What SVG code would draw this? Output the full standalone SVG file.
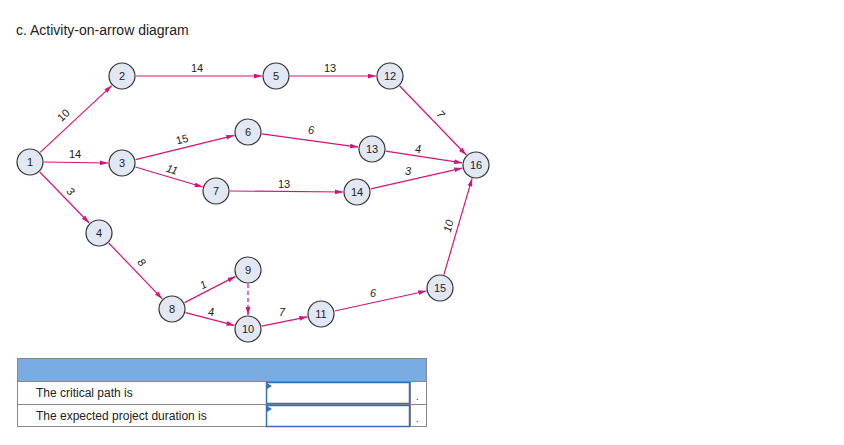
<svg xmlns="http://www.w3.org/2000/svg" width="844" height="445" viewBox="0 0 844 445">
<style>
text{font-family:"Liberation Sans",Arial,sans-serif;fill:#222}
.n circle{fill:#e2e8f3;stroke:#333;stroke-width:1.2}
.n text{font-size:11px;text-anchor:middle}
.e line{stroke:#d4147a;stroke-width:1.2;marker-end:url(#a)}
.l{font-size:11px;text-anchor:middle}
.i{font-style:italic}
.t{font-size:12px}
</style>
<defs><marker id="a" viewBox="0 0 10 6" refX="10" refY="3" markerWidth="8" markerHeight="5" orient="auto" markerUnits="userSpaceOnUse"><path d="M0,0L10,3L0,6z" fill="#d4147a"/></marker></defs>
<rect width="844" height="445" fill="#fff"/>
<text x="16" y="35" style="font-size:14px">c. Activity-on-arrow diagram</text>
<g id="connectors" class="e">
<line x1="40.2" y1="152.4" x2="111.8" y2="85.6"/>
<line x1="44" y1="162" x2="108" y2="163"/>
<line x1="39.8" y1="172" x2="89.2" y2="223"/>
<line x1="136" y1="76" x2="262" y2="76"/>
<line x1="135.6" y1="159.7" x2="234.4" y2="135.3"/>
<line x1="135.4" y1="167" x2="202.6" y2="187"/>
<line x1="108.7" y1="243" x2="162.3" y2="298.9"/>
<line x1="290" y1="76" x2="376" y2="76"/>
<line x1="261.9" y1="133.9" x2="358.1" y2="147.1"/>
<line x1="230" y1="191" x2="343" y2="192"/>
<line x1="184.5" y1="302.6" x2="235.5" y2="276.4"/>
<line x1="185.5" y1="312.6" x2="234.5" y2="325.4"/>
<line x1="248" y1="284" x2="248" y2="315" stroke-dasharray="4,3"/>
<line x1="261.7" y1="326.2" x2="307.3" y2="316.8"/>
<line x1="334.7" y1="311" x2="426.3" y2="291"/>
<line x1="399.7" y1="86" x2="466.3" y2="155"/>
<line x1="385.8" y1="151.1" x2="462.2" y2="162.9"/>
<line x1="370.7" y1="188.9" x2="462.3" y2="168.1"/>
<line x1="443.9" y1="274.6" x2="472.1" y2="178.4"/>
</g>
<g id="labels">
<text class="l" transform="translate(66,118) rotate(-43)">10</text>
<text class="l" x="75" y="158">14</text>
<text class="l i" transform="translate(68,194) rotate(46)">3</text>
<text class="l" x="197" y="72">14</text>
<text class="l" transform="translate(183,143) rotate(-14)">15</text>
<text class="l i" transform="translate(171,173) rotate(16)">11</text>
<text class="l i" transform="translate(139,265) rotate(46)">8</text>
<text class="l" x="330" y="72">13</text>
<text class="l i" x="311" y="134">6</text>
<text class="l" x="284" y="188">13</text>
<text class="l i" transform="translate(205,288) rotate(-27)">1</text>
<text class="l i" x="211" y="316">4</text>
<text class="l i" x="282" y="316">7</text>
<text class="l i" x="373" y="297">6</text>
<text class="l i" transform="translate(438,117) rotate(45)">7</text>
<text class="l i" x="418" y="153">4</text>
<text class="l i" x="408" y="175">3</text>
<text class="l i" transform="translate(452,227) rotate(-75)">10</text>
</g>
<g id="n1" class="n"><circle cx="30" cy="162" r="13"/><text x="30" y="166">1</text></g>
<g id="n2" class="n"><circle cx="122" cy="76" r="13"/><text x="122" y="80">2</text></g>
<g id="n3" class="n"><circle cx="122" cy="163" r="13"/><text x="122" y="167">3</text></g>
<g id="n4" class="n"><circle cx="99" cy="233" r="13"/><text x="99" y="237">4</text></g>
<g id="n5" class="n"><circle cx="276" cy="76" r="13"/><text x="276" y="80">5</text></g>
<g id="n6" class="n"><circle cx="248" cy="132" r="13"/><text x="248" y="136">6</text></g>
<g id="n7" class="n"><circle cx="216" cy="191" r="13"/><text x="216" y="195">7</text></g>
<g id="n8" class="n"><circle cx="172" cy="309" r="13"/><text x="172" y="313">8</text></g>
<g id="n9" class="n"><circle cx="248" cy="270" r="13"/><text x="248" y="274">9</text></g>
<g id="n10" class="n"><circle cx="248" cy="329" r="13"/><text x="248" y="333">10</text></g>
<g id="n11" class="n"><circle cx="321" cy="314" r="13"/><text x="321" y="318">11</text></g>
<g id="n12" class="n"><circle cx="390" cy="76" r="13"/><text x="390" y="80">12</text></g>
<g id="n13" class="n"><circle cx="372" cy="149" r="13"/><text x="372" y="153">13</text></g>
<g id="n14" class="n"><circle cx="357" cy="192" r="13"/><text x="357" y="196">14</text></g>
<g id="n15" class="n"><circle cx="440" cy="288" r="13"/><text x="440" y="292">15</text></g>
<g id="n16" class="n"><circle cx="476" cy="165" r="13"/><text x="476" y="169">16</text></g>
<g id="table">
<rect x="17.5" y="358.5" width="409" height="68" fill="#fff" stroke="#888"/>
<rect x="18" y="359" width="408" height="22" fill="#78ace3"/>
<line x1="17" y1="381.5" x2="427" y2="381.5" stroke="#888"/>
<line x1="17" y1="404.5" x2="427" y2="404.5" stroke="#888"/>
<line x1="410.5" y1="381" x2="410.5" y2="427" stroke="#888"/>
<text class="t" x="36" y="397">The critical path is</text>
<text class="t" x="36" y="420">The expected project duration is</text>
<rect x="266.5" y="382.5" width="143" height="21" fill="#fff" stroke="#3a6fb5" stroke-width="1.5"/>
<rect x="266.5" y="405.5" width="143" height="21" fill="#fff" stroke="#3a6fb5" stroke-width="1.5"/>
<path d="M267,383l5,3l-5,3z M267,406l5,3l-5,3z" fill="#3a6fb5"/>
<text x="416" y="400" style="font-size:10px">.</text>
<text x="416" y="422" style="font-size:10px">.</text>
</g>
</svg>
